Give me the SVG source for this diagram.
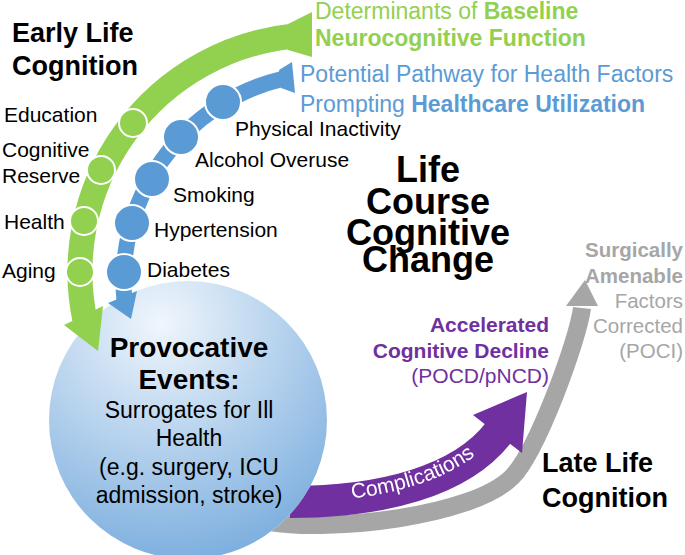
<svg xmlns="http://www.w3.org/2000/svg" width="685" height="555" viewBox="0 0 685 555">
<style>
text{font-family:"Liberation Sans",Arial,sans-serif}
.b{font-weight:bold}
.lbl{font-size:21px;fill:#000}
.head{font-size:27px;font-weight:bold;fill:#000}
.title{font-size:36px;font-weight:bold;fill:#000;text-anchor:middle}
.ev{text-anchor:middle;fill:#000}
.gtxt{font-size:23px;fill:#92d050}
.btxt{font-size:23px;fill:#5b9bd5}
.ptxt{font-size:21px;fill:#7030a0;text-anchor:end}
.grtxt{font-size:20.5px;fill:#a6a6a6;text-anchor:end}
.gdot{fill:#92d050;stroke:#fff;stroke-width:2}
.bdot{fill:#5b9bd5;stroke:#fff;stroke-width:2}
</style>
<defs>
<radialGradient id="ballGrad" cx="0.4" cy="0.15" r="0.95">
<stop offset="0" stop-color="#f0f6fc"/>
<stop offset="1" stop-color="#72a8dc"/>
</radialGradient>
<mask id="outsideCircle" maskUnits="userSpaceOnUse" x="0" y="0" width="685" height="555">
<rect x="0" y="0" width="685" height="555" fill="#fff"/>
<circle cx="188" cy="420" r="139" fill="#000"/>
</mask>
<path id="purplePath" d="M290,502 C380,502 461,482 499,432"/>
</defs>

<g id="provocative-events">
<circle cx="188" cy="420" r="139" fill="url(#ballGrad)"/>
<text class="ev b" x="189" y="357" font-size="28">Provocative</text>
<text class="ev b" x="189" y="389" font-size="28">Events:</text>
<text class="ev" x="189" y="418" font-size="23">Surrogates for Ill</text>
<text class="ev" x="189" y="446" font-size="23">Health</text>
<text class="ev" x="189" y="475" font-size="23">(e.g. surgery, ICU</text>
<text class="ev" x="189" y="503" font-size="23">admission, stroke)</text>
</g>

<g id="connectors">
<g mask="url(#outsideCircle)">
<path d="M270,522 C330,532 472,517 512,477 C537,452 578,340 582,308" fill="none" stroke="#a6a6a6" stroke-width="18"/>
<polygon points="566,306 585,280 598,306" fill="#a6a6a6"/>
<use href="#purplePath" fill="none" stroke="#7030a0" stroke-width="32"/>
<polygon points="473,415 527,392 522,453" fill="#7030a0"/>
<text font-size="21" fill="#fff"><textPath href="#purplePath" startOffset="62" dy="7">Complications</textPath></text>
</g>
<path d="M292,36.3 A237,237 0 0 0 85.3,322" fill="none" stroke="#92d050" stroke-width="25"/>
<polygon points="288,24 312,12 312,57 288,50" fill="#92d050"/>
<polygon points="64,325 103,306 98,351" fill="#92d050"/>
<path d="M283,78.7 A208,208 0 0 0 124.6,302" fill="none" stroke="#5b9bd5" stroke-width="16"/>
<polygon points="279,70 292,62 295,93 281,88" fill="#5b9bd5"/>
<polygon points="108,303 137,291 131,319" fill="#5b9bd5"/>
</g>

<g id="early-life-cognition">
<text class="head" x="12" y="42">Early Life</text>
<text class="head" x="12" y="75">Cognition</text>
</g>

<g id="education"><circle class="gdot" cx="133" cy="123" r="14"/><text class="lbl" x="4" y="122">Education</text></g>
<g id="cognitive-reserve"><circle class="gdot" cx="101" cy="170" r="14"/><text class="lbl" x="2" y="157">Cognitive</text><text class="lbl" x="2" y="183">Reserve</text></g>
<g id="health"><circle class="gdot" cx="84" cy="221" r="14"/><text class="lbl" x="4" y="229">Health</text></g>
<g id="aging"><circle class="gdot" cx="80" cy="272" r="14"/><text class="lbl" x="2" y="278">Aging</text></g>

<g id="physical-inactivity"><circle class="bdot" cx="223" cy="102" r="18"/><text class="lbl" x="235" y="136">Physical Inactivity</text></g>
<g id="alcohol-overuse"><circle class="bdot" cx="181" cy="137" r="18"/><text class="lbl" x="195" y="167">Alcohol Overuse</text></g>
<g id="smoking"><circle class="bdot" cx="152" cy="179" r="18"/><text class="lbl" x="173" y="202">Smoking</text></g>
<g id="hypertension"><circle class="bdot" cx="132" cy="223" r="18"/><text class="lbl" x="154" y="237">Hypertension</text></g>
<g id="diabetes"><circle class="bdot" cx="124" cy="272" r="18"/><text class="lbl" x="147" y="277">Diabetes</text></g>

<g id="baseline-determinants">
<text class="gtxt" x="315" y="19">Determinants of <tspan class="b">Baseline</tspan></text>
<text class="gtxt b" x="315" y="46">Neurocognitive Function</text>
</g>

<g id="healthcare-pathway">
<text class="btxt" x="300" y="82">Potential Pathway for Health Factors</text>
<text class="btxt" x="300" y="112">Prompting <tspan class="b">Healthcare Utilization</tspan></text>
</g>

<g id="life-course">
<text class="title" x="428" y="182">Life</text>
<text class="title" x="428" y="214">Course</text>
<text class="title" x="428" y="245">Cognitive</text>
<text class="title" x="428" y="272">Change</text>
</g>

<g id="accelerated-decline">
<text class="ptxt b" x="549" y="332">Accelerated</text>
<text class="ptxt b" x="549" y="358">Cognitive Decline</text>
<text class="ptxt" x="549" y="383">(POCD/pNCD)</text>
</g>

<g id="surgically-amenable">
<text class="grtxt b" x="683" y="257">Surgically</text>
<text class="grtxt b" x="683" y="283">Amenable</text>
<text class="grtxt" x="683" y="308">Factors</text>
<text class="grtxt" x="683" y="333">Corrected</text>
<text class="grtxt" x="683" y="358">(POCI)</text>
</g>

<g id="late-life-cognition">
<text class="head" x="542" y="472">Late Life</text>
<text class="head" x="542" y="507">Cognition</text>
</g>
</svg>
